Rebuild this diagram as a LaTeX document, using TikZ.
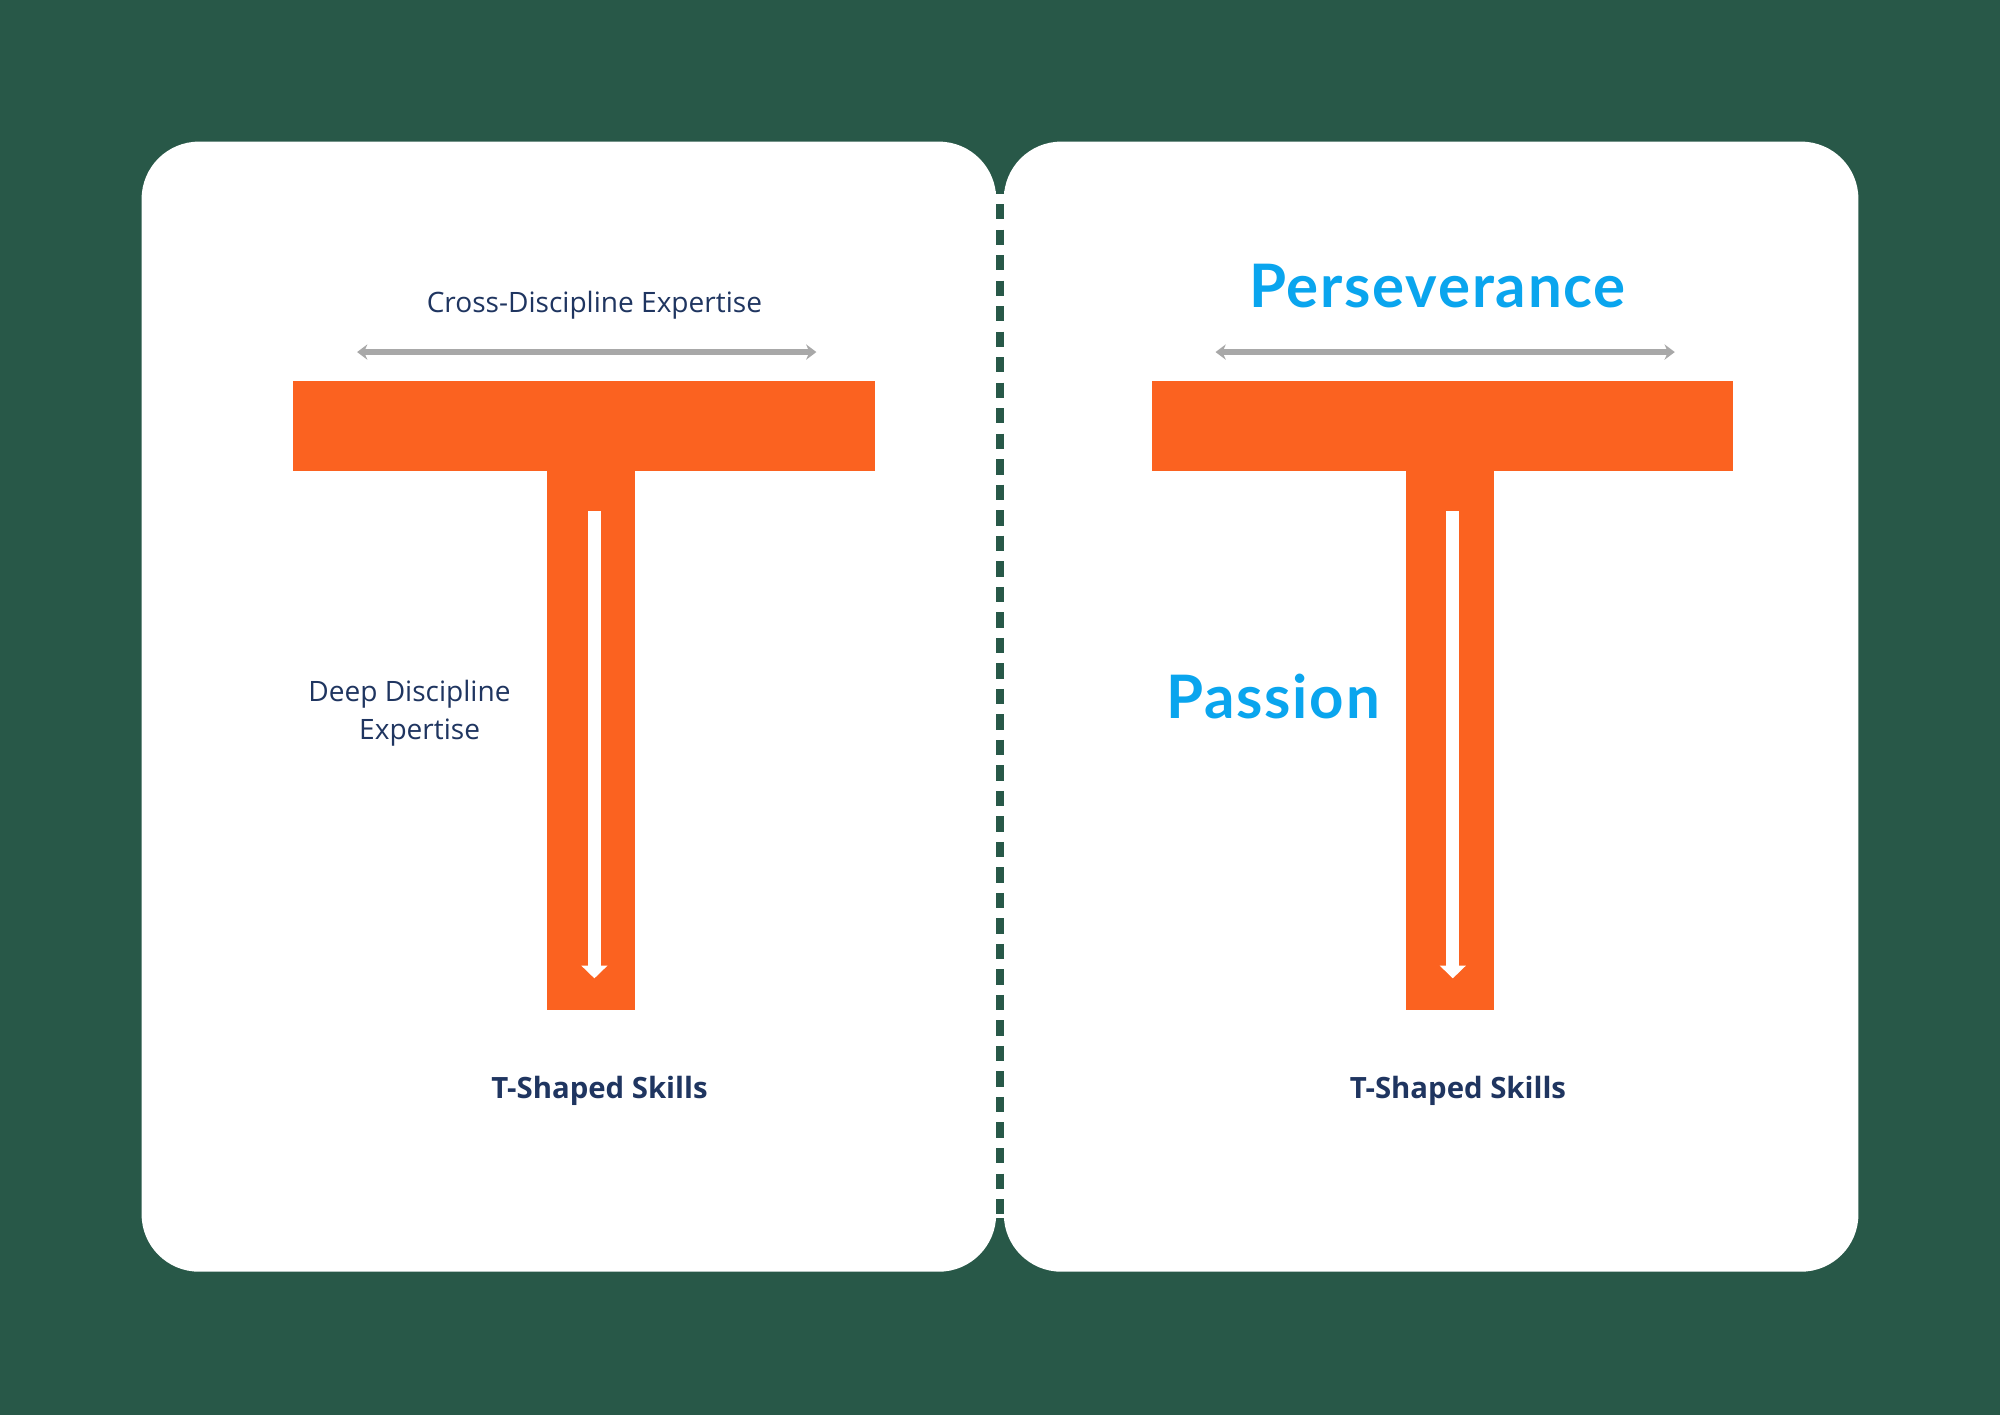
\documentclass[tikz,border=0pt]{standalone}
\usepackage{fontspec}
\setmainfont{Open Sans}
\newfontfamily\headfont[LetterSpace=3]{Lato}
\usetikzlibrary{arrows.meta}
\definecolor{bg}{HTML}{285848}
\definecolor{tor}{HTML}{FB6220}
\definecolor{navy}{HTML}{1F3560}
\definecolor{sky}{HTML}{0AA5EE}
\definecolor{gr}{HTML}{A8A8A8}
\tikzset{
 card/.style={fill=white,rounded corners=22.5bp},
 tpart/.style={fill=tor},
 lab/.style={text=navy,font=\fontsize{11bp}{15bp}\selectfont,align=center},
 big/.style={text=sky,font=\headfont\bfseries\fontsize{23.5bp}{26bp}\selectfont},
 wide/.style={draw=gr,line width=2.5bp,{Stealth[length=4bp,width=6bp]}-{Stealth[length=4bp,width=6bp]}},
 deep/.style={draw=white,line width=5bp,-{Triangle[length=5bp,width=10bp]}},
}
\begin{document}
\begin{tikzpicture}[x=0.5bp,y=-0.5bp]
\fill[bg] (0,0) rectangle (1568,1109);
\useasboundingbox (0,0) rectangle (1568,1109);
\fill[card] (111,111) rectangle (781,997);
\fill[card] (787,111) rectangle (1457,997);
\fill[white] (778,150) rectangle (790,955);
\coordinate (d1) at (784,140); \coordinate (d2) at (784,962);
\draw[bg,line width=3bp,dash pattern=on 6bp off 4bp] (d1) -- (d2);
\foreach \o/\n in {0/L,673/R}{
 \begin{scope}[xshift=\o*0.5bp]
 \fill[tpart] (230,299) rectangle (686,369);
 \fill[tpart] (429,368) rectangle (498,792);
 \coordinate (\n a1) at (280,276); \coordinate (\n a2) at (640,276);
 \draw[wide] (\n a1) -- (\n a2);
 \coordinate (\n s1) at (466,401); \coordinate (\n s2) at (466,767);
 \draw[deep] (\n s1) -- (\n s2);
 \node[lab,font=\bfseries\fontsize{11.5bp}{13bp}\selectfont] (\n sk) at (470,855) {T-Shaped Skills};
 \end{scope}}
\node[lab] (cross) at (466,239) {Cross-Discipline Expertise};
\node[lab] (deepl) at (321,559) {Deep Discipline\\\hspace*{8bp}Expertise};
\node[big] (pers) at (1127,224) {Perseverance};
\node[big] (pass) at (998,546) {Passion};
\end{tikzpicture}
\end{document}
